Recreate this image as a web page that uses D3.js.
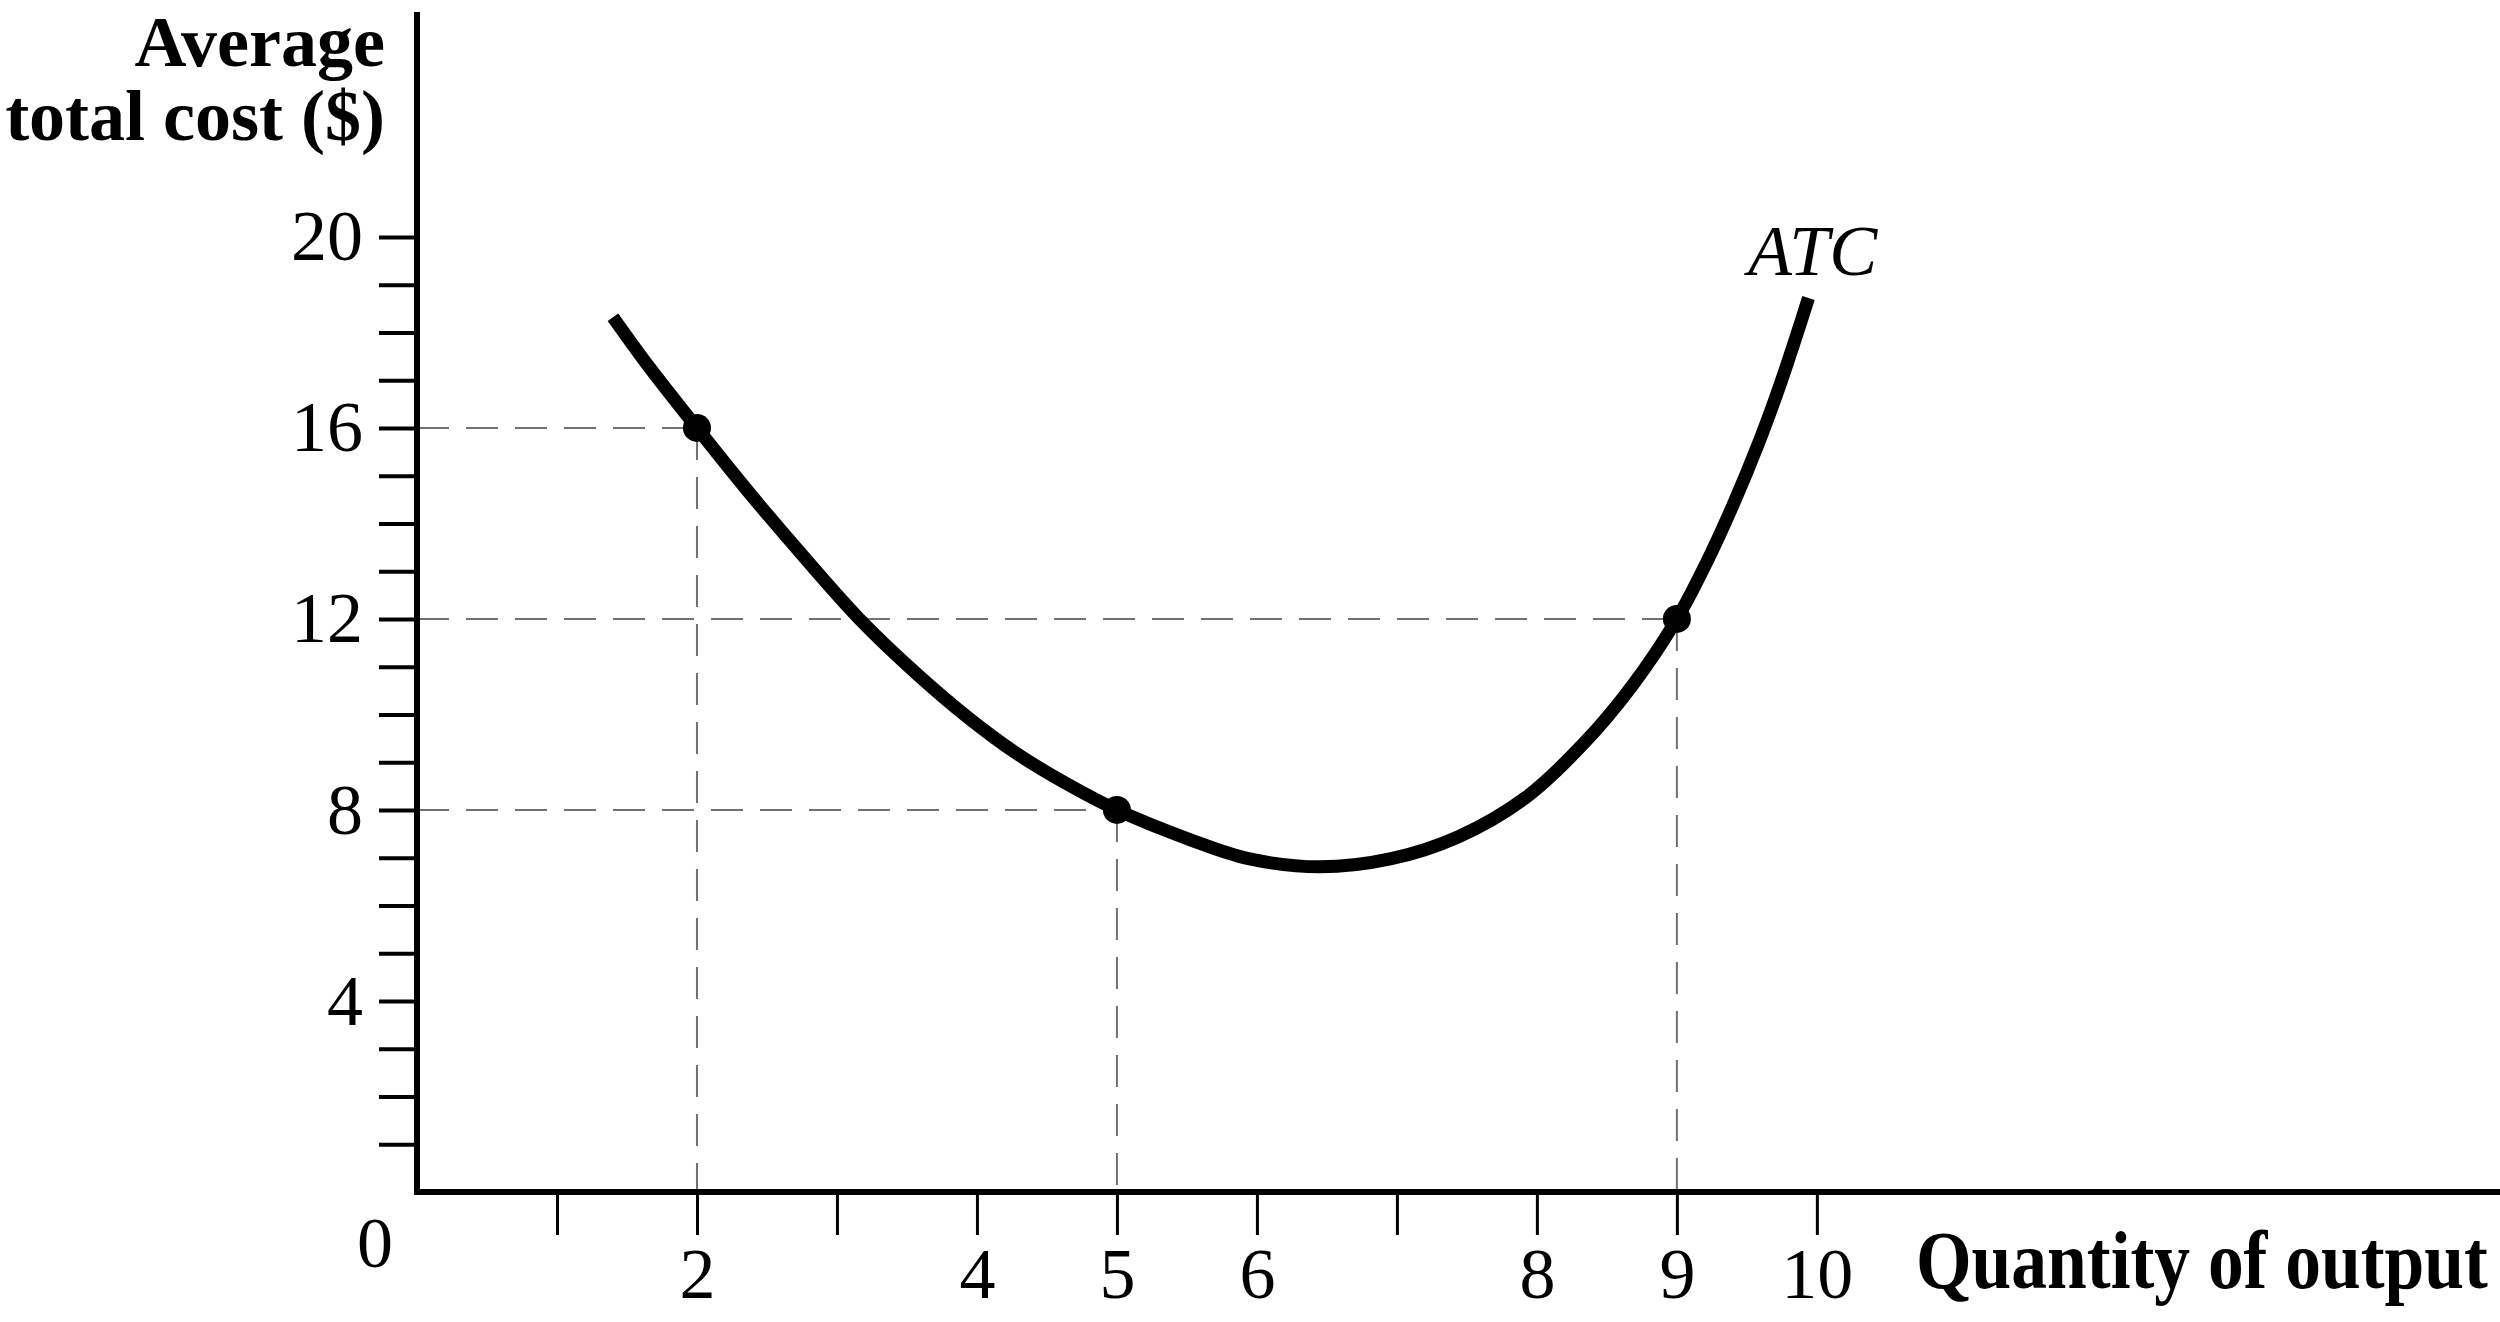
<!DOCTYPE html>
<html>
<head>
<meta charset="utf-8">
<script src="https://cdn.jsdelivr.net/npm/d3@7"></script>
<style>
  body { margin: 0; background: #fff; }
  text { font-family: "Liberation Serif", "Times New Roman", serif; fill: #000; }
</style>
</head>
<body>
<div id="atc-graph"></div>
<script>
//Quantity and ATC values.
const curveQ = [1.40, 1.66, 2.00, 2.36, 2.74, 3.16, 3.57, 3.93, 4.28, 4.64, 5.00, 5.53, 5.94, 6.45, 6.96, 7.44, 7.92, 8.33, 8.68, 9.00, 9.21, 9.40, 9.59, 9.74, 9.855, 9.94];
const curveATC = [18.32, 17.27, 16.00, 14.69, 13.38, 12.00, 10.85, 9.95, 9.19, 8.55, 8.00, 7.37, 6.98, 6.81, 6.98, 7.44, 8.26, 9.38, 10.60, 12.00, 13.17, 14.38, 15.73, 16.93, 17.94, 18.72];

//Marked points on the curve.
const pointQ = [2, 5, 9];
const pointATC = [16, 8, 12];

//Ticks and labels.
const xTicks = [1, 2, 3, 4, 5, 6, 7, 8, 9, 10];
const xLabels = [2, 4, 5, 6, 8, 9, 10];
const yTicks = [1, 2, 3, 4, 5, 6, 7, 8, 9, 10, 11, 12, 13, 14, 15, 16, 17, 18, 19, 20];
const yLabels = [4, 8, 12, 16, 20];

const width = 2500;
const height = 1322;

const svg = d3.select("#atc-graph")
    .append("svg")
    .attr("width", width)
    .attr("height", height);

//Scales, the axes run from the origin to the top and right edges.
const x = d3.scaleLinear().domain([0, 14.88]).range([417, 2500]);
const y = d3.scaleLinear().domain([0, 24.71]).range([1192, 12]);

//Dashed guide lines to the axes.
const guides = svg.append("g")
    .attr("stroke", "#707070")
    .attr("stroke-width", 2)
    .attr("stroke-dasharray", "32,17")
    .attr("fill", "none");

pointQ.forEach(function(q, i) {
    guides.append("line")
        .attr("x1", x(0)).attr("x2", x(q))
        .attr("y1", y(pointATC[i])).attr("y2", y(pointATC[i]));
    guides.append("line")
        .attr("x1", x(q)).attr("x2", x(q))
        .attr("y1", y(pointATC[i])).attr("y2", y(0));
});

//x axis.
const xAxis = svg.append("g")
    .attr("transform", "translate(0," + y(0) + ")")
    .call(d3.axisBottom(x)
        .tickValues(xTicks)
        .tickSize(43)
        .tickSizeOuter(0)
        .tickPadding(12)
        .tickFormat(function(d) { return xLabels.includes(d) ? d : ""; }));
xAxis.select(".domain").attr("stroke-width", 6).attr("d", "M" + (x(0) - 3) + ",0H" + width);
xAxis.selectAll(".tick line").attr("stroke-width", 3);
xAxis.selectAll("text").style("font-size", "72px").style("font-family", "Liberation Serif, serif");

//y axis.
const yAxis = svg.append("g")
    .attr("transform", "translate(" + x(0) + ",0)")
    .call(d3.axisLeft(y)
        .tickValues(yTicks)
        .tickSize(38)
        .tickSizeOuter(0)
        .tickPadding(16)
        .tickFormat(function(d) { return yLabels.includes(d) ? d : ""; }));
yAxis.select(".domain").attr("stroke-width", 6).attr("d", "M0," + y(0) + "V" + y.range()[1]);
yAxis.selectAll(".tick line").attr("stroke-width", 4);
yAxis.selectAll("text").style("font-size", "72px").style("font-family", "Liberation Serif, serif");

//Origin label.
svg.append("text")
    .attr("x", 375)
    .attr("y", 1267)
    .attr("text-anchor", "middle")
    .style("font-size", "72px")
    .text("0");

//Axis titles.
svg.append("text")
    .attr("x", 385)
    .attr("y", 66)
    .attr("text-anchor", "end")
    .style("font-size", "72px")
    .style("font-weight", "bold")
    .text("Average");
svg.append("text")
    .attr("x", 385)
    .attr("y", 140)
    .attr("text-anchor", "end")
    .style("font-size", "72px")
    .style("font-weight", "bold")
    .text("total cost ($)");

//The x title is narrow in the original, so squeeze it horizontally.
const xTitle = svg.append("text")
    .style("font-size", "82px")
    .style("font-weight", "bold")
    .text("Quantity of output");
const xTitleScale = 572 / xTitle.node().getComputedTextLength();
xTitle.attr("transform", "translate(1916,1288) scale(" + xTitleScale + ",1)");

//The ATC curve.
const line = d3.line()
    .x(function(d) { return x(d[0]); })
    .y(function(d) { return y(d[1]); })
    .curve(d3.curveCatmullRom.alpha(0.5));

svg.append("path")
    .datum(curveQ.map(function(q, i) { return [q, curveATC[i]]; }))
    .attr("d", line)
    .attr("fill", "none")
    .attr("stroke", "#000")
    .attr("stroke-width", 13);

//Dots at the marked points.
svg.selectAll(".dot")
    .data(pointQ)
    .enter()
    .append("circle")
    .attr("class", "dot")
    .attr("cx", function(d) { return x(d); })
    .attr("cy", function(d, i) { return y(pointATC[i]); })
    .attr("r", 14)
    .attr("fill", "#000");

//Curve label.
svg.append("text")
    .attr("x", 1748)
    .attr("y", 275)
    .style("font-size", "72px")
    .style("font-style", "italic")
    .text("ATC");
</script>
</body>
</html>
